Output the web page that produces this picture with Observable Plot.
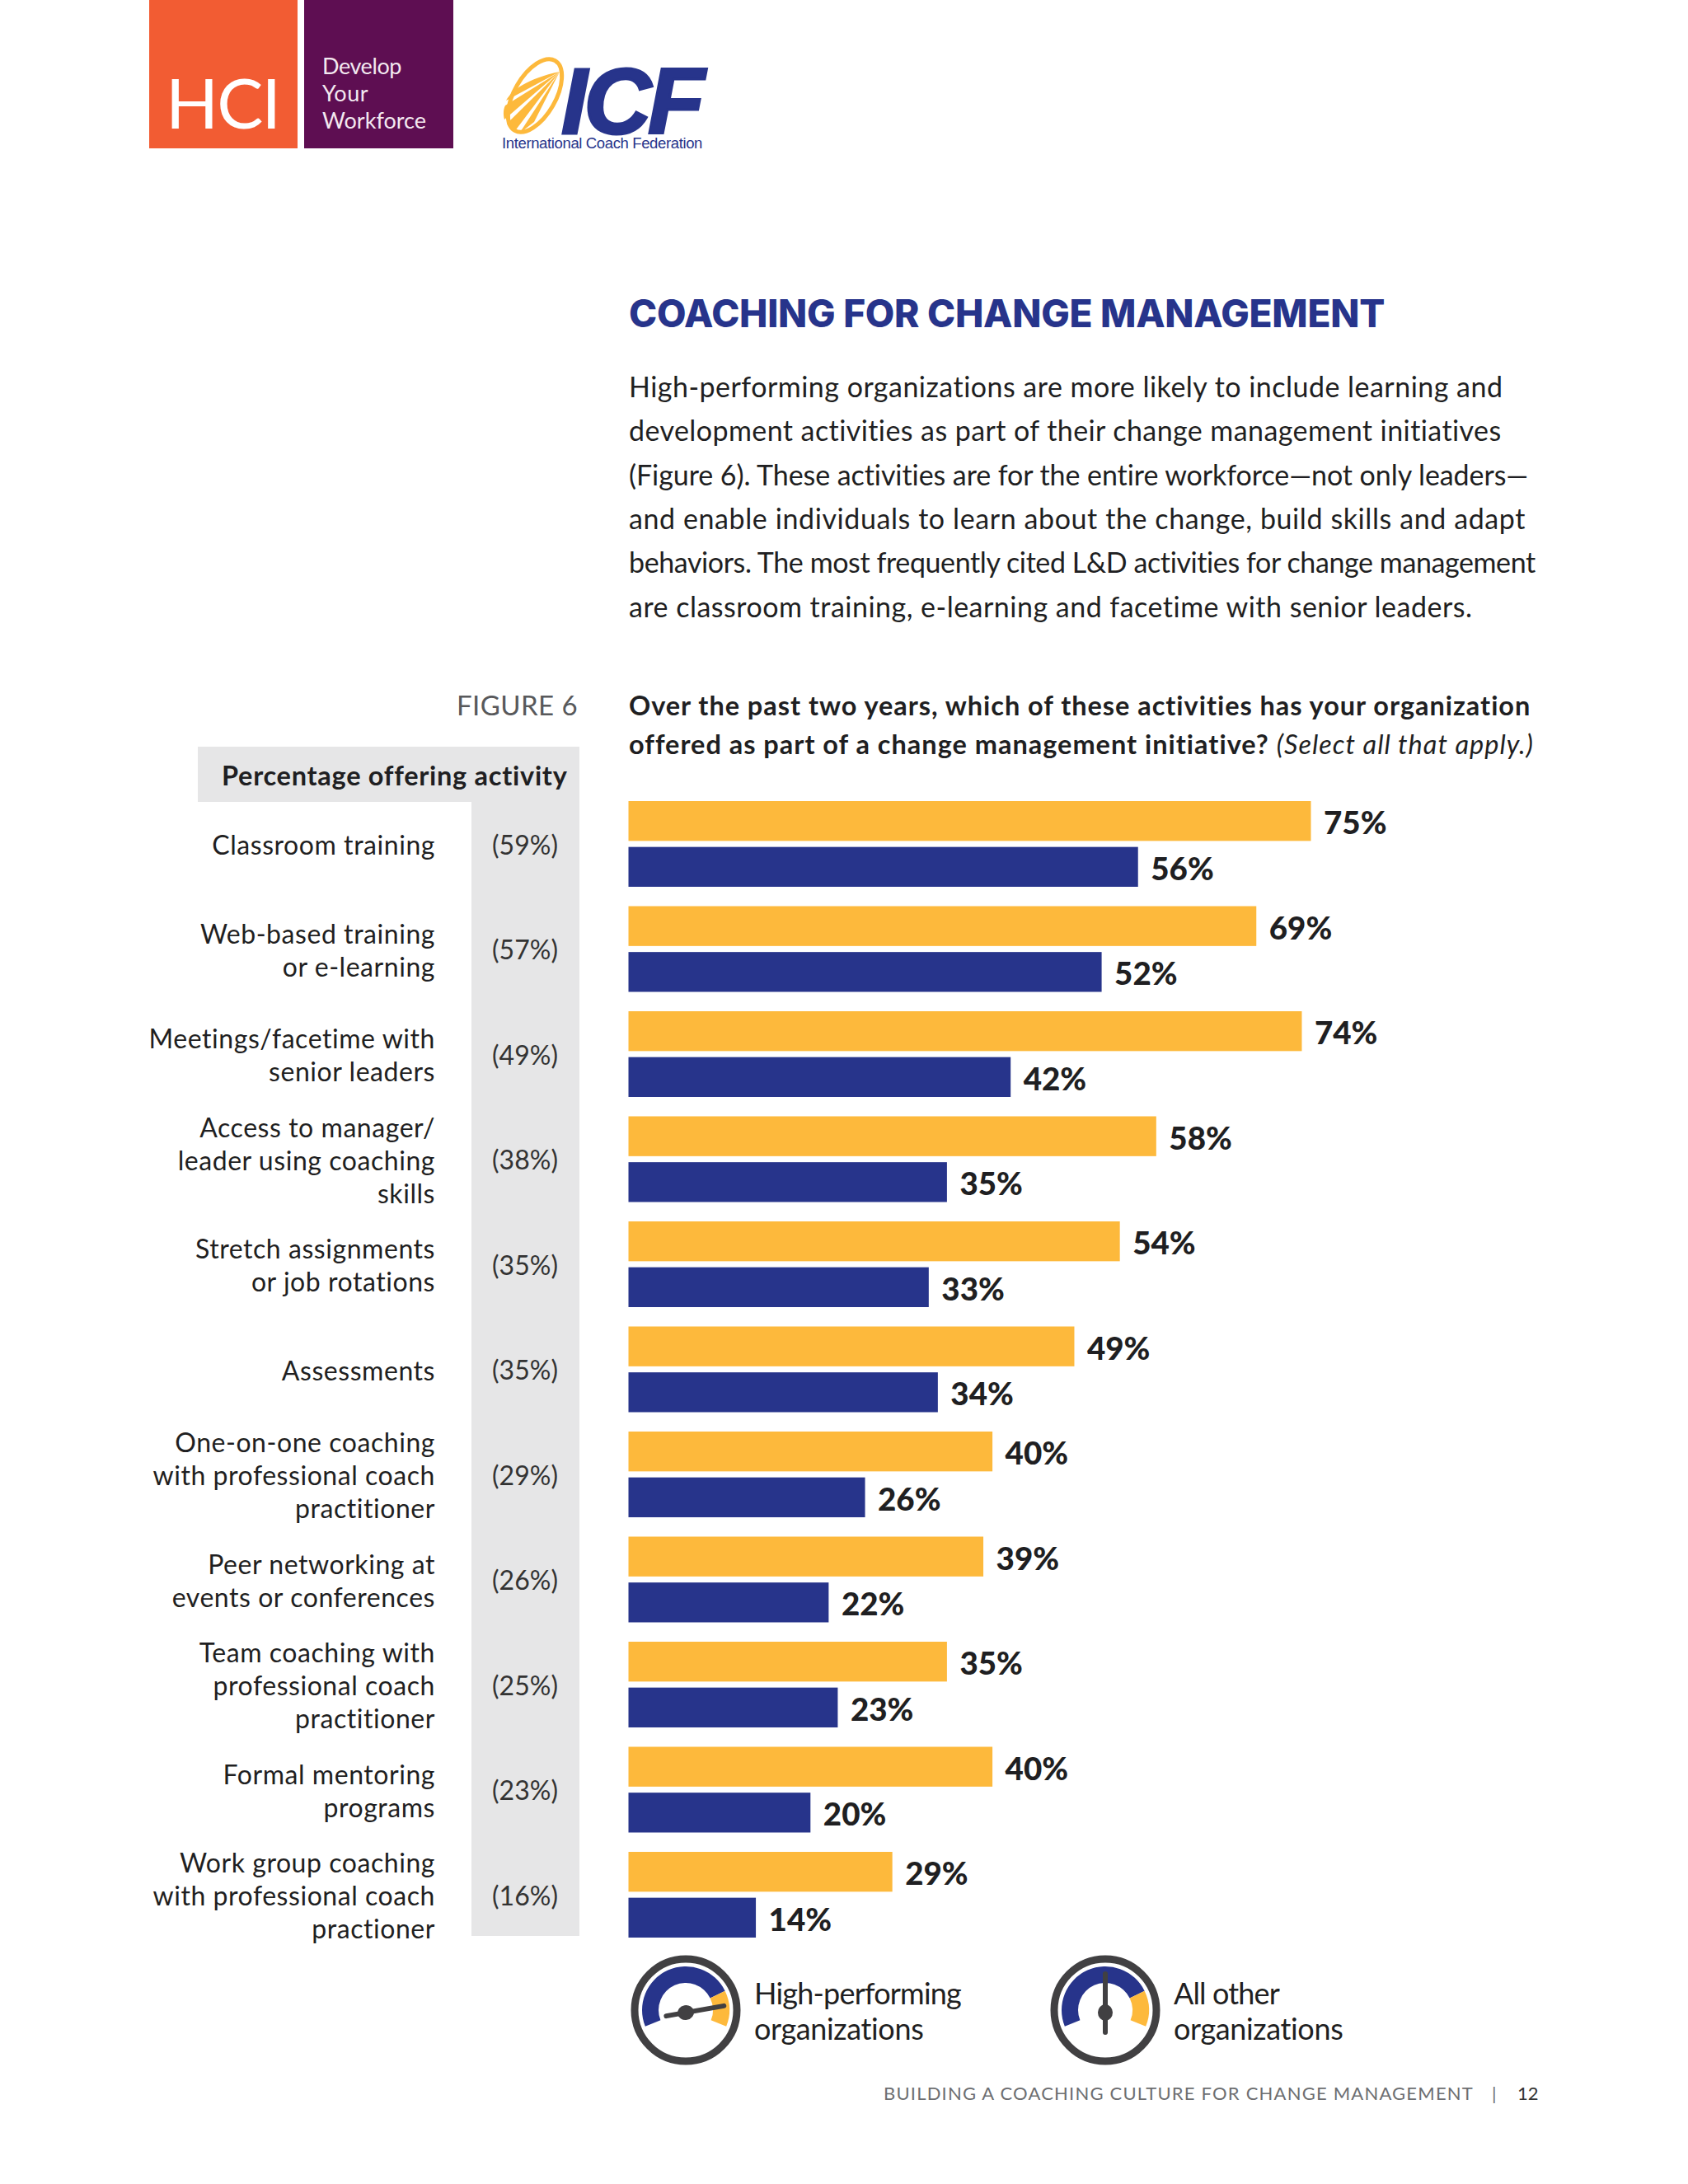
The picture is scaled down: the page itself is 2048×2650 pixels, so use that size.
<!DOCTYPE html>
<html>
<head>
<meta charset="utf-8">
<script src="https://cdn.jsdelivr.net/npm/d3@7"></script>
<script src="https://cdn.jsdelivr.net/npm/@observablehq/plot@0.6"></script>
<style>
html,body{margin:0;padding:0;background:#fff}
#page{position:relative;width:2048px;height:2650px;overflow:hidden;background:#fff}
#page>div,#page>svg{position:absolute}
.t{white-space:nowrap;line-height:1}
.cat text{letter-spacing:.55px}
</style>
</head>
<body>
<div id="page"></div>
<script>
// ---- data ----
const categories = [
  "Classroom training",
  "Web-based training\nor e-learning",
  "Meetings/facetime with\nsenior leaders",
  "Access to manager/\nleader using coaching\nskills",
  "Stretch assignments\nor job rotations",
  "Assessments",
  "One-on-one coaching\nwith professional coach\npractitioner",
  "Peer networking at\nevents or conferences",
  "Team coaching with\nprofessional coach\npractitioner",
  "Formal mentoring\nprograms",
  "Work group coaching\nwith professional coach\npractioner"
];
const overall = [59,57,49,38,35,35,29,26,25,23,16];
const highPerforming = [75,69,74,58,54,49,40,39,35,40,29];
const allOther = [56,52,42,35,33,34,26,22,23,20,14];
const seriesNames = ["High-performing organizations","All other organizations"];
const seriesColors = ["#FDB93C","#27348B"];
const paragraph = [
  "High-performing organizations are more likely to include learning and",
  "development activities as part of their change management initiatives",
  "(Figure 6). These activities are for the entire workforce—not only leaders—",
  "and enable individuals to learn about the change, build skills and adapt",
  "behaviors. The most frequently cited L&D activities for change management",
  "are classroom training, e-learning and facetime with senior leaders."
];

const BODY = "Lato, 'Open Sans', sans-serif";
const INK = "#1f1f22";
const page = document.getElementById("page");

// text helper: x/y are the left (or right) edge and baseline, w a target width
function t(html, o){
  const d = document.createElement("div");
  d.className = "t";
  d.innerHTML = html;
  d.style.cssText = `left:0;top:0;font:${o.style||"normal"} ${o.weight||400} ${o.size}px ${o.font||BODY};color:${o.color||INK}`;
  if (o.lineHeight) d.style.lineHeight = o.lineHeight;
  const mark = document.createElement("span");
  mark.style.cssText = "display:inline-block;width:0;height:0";
  d.appendChild(mark);
  page.appendChild(d);
  if (o.w){
    const chars = d.textContent.length;
    const cur = d.getBoundingClientRect().width;
    d.style.letterSpacing = ((o.w-cur)/chars)+"px";
  }
  const base = mark.getBoundingClientRect().top - page.getBoundingClientRect().top;
  const width = d.getBoundingClientRect().width;
  d.style.top = (o.y-base)+"px";
  d.style.left = (o.anchor==="end" ? o.x-width : o.x)+"px";
  return d;
}
function box(x,y,w,h,c){
  const d=document.createElement("div");
  d.style.cssText=`left:${x}px;top:${y}px;width:${w}px;height:${h}px;background:${c}`;
  page.appendChild(d);
}

// ---- logos ----
box(181,0,180,180,"#F25C33");
box(369,0,181,180,"#5E0E52");
t("HCI",{x:201,y:156,size:84,weight:400,color:"#fff",w:138});
t("Develop",{x:391,y:90,size:27,color:"#f3e8f0",w:96});
t("Your",{x:391,y:123,size:27,color:"#f3e8f0",w:56});
t("Workforce",{x:391,y:156,size:27,color:"#f3e8f0",w:126});

const icf = d3.select(page).append("svg")
  .attr("width",110).attr("height",120)
  .style("left","600px").style("top","60px");
const swoosh = icf.append("g").attr("fill","none").attr("stroke","#FDB93C");
swoosh.append("ellipse").attr("cx",49).attr("cy",56).attr("rx",25).attr("ry",49)
  .attr("transform","rotate(30 49 56)").attr("stroke-width",5);
icf.append("g").attr("fill","#FDB93C").selectAll("path")
  .data([
    "M79,27 L14,62 C20,50 40,35 79,27Z",
    "M79,27 L12,85 C10,78 11,72 13,68Z",
    "M79,27 L24,100 C20,97 17,94 15,90Z",
    "M79,27 L48,88 L30,102Z"
  ]).join("path").attr("d",d=>d);
t("ICF",{x:681,y:162,size:113,weight:700,style:"italic",font:"'Liberation Sans',Arial,sans-serif",color:"#27348B",w:170,lineHeight:0.72}).style.webkitTextStroke="3px #27348B";
t("International Coach Federation",{x:609,y:180,size:18.5,font:"'Liberation Sans',Arial,sans-serif",color:"#27348B",w:243});

// ---- heading and paragraph ----
t("COACHING FOR CHANGE MANAGEMENT",{x:763,y:397,size:46,weight:800,font:"Inter,sans-serif",color:"#27348B",w:917});
const paraW=[1061,1061,1093,1088,1101,1024];
paragraph.forEach((line,i)=>t(line,{x:763,y:482+i*53.3,size:34,w:paraW[i]}));

// ---- figure heading ----
t("FIGURE 6",{x:701,y:868,size:33,color:"#58595B",anchor:"end",w:147});
t("Over the past two years, which of these activities has your organization",{x:763,y:868,size:32.5,weight:700,w:1096});
t('offered as part of a change management initiative? <span style="font-weight:400;font-style:italic">(Select all that apply.)</span>',{x:763,y:915,size:32.5,weight:700,w:1098});

// ---- grey column behind the plot ----
box(240,906,463,67,"#E6E6E7");
box(572,906,131,1443,"#E6E6E7");
t("Percentage offering activity",{x:269,y:953,size:32.5,weight:700,w:419});

// ---- chart ----
const rows = categories.flatMap((category,i)=>[
  {category,series:seriesNames[0],value:highPerforming[i]},
  {category,series:seriesNames[1],value:allOther[i]}
]);
const labels = categories.map((category,i)=>({category,overall:overall[i]}));
const chart = Plot.plot({
  width:2048, height:1411,
  marginTop:22, marginBottom:10, marginLeft:762.5, marginRight:181.5,
  style:{background:"transparent",fontFamily:BODY,overflow:"visible"},
  x:{domain:[0,100],axis:null},
  y:{domain:seriesNames,axis:null,paddingInner:7.3/55.6,paddingOuter:0,round:false},
  fy:{domain:categories,axis:null,paddingInner:23.5/127.5,paddingOuter:0,round:false},
  color:{domain:seriesNames,range:seriesColors},
  marks:[
    Plot.barX(rows,{x:"value",y:"series",fy:"category",fill:"series"}),
    Plot.text(rows,{x:"value",y:"series",fy:"category",text:d=>d.value+"%",textAnchor:"start",dx:15,dy:3,fontSize:38.5,fontWeight:900,fill:INK}),
    Plot.text(labels,{fy:"category",frameAnchor:"left",className:"cat",text:"category",textAnchor:"end",dx:-235,dy:0,fontSize:32,lineHeight:1.25,fill:INK}),
    Plot.text(labels,{fy:"category",frameAnchor:"left",text:d=>`(${d.overall}%)`,textAnchor:"middle",dx:-126,dy:2,fontSize:32,fill:"#333"})
  ]
});
const holder=document.createElement("div");
holder.style.cssText="left:0;top:950px;width:2048px";
holder.appendChild(chart);
page.appendChild(holder);

// ---- legend gauges ----
function gauge(cx,cy,angle){
  const s=d3.select(page).append("svg").attr("width",140).attr("height",140)
    .style("left",(cx-70)+"px").style("top",(cy-70)+"px");
  const g=s.append("g").attr("transform","translate(70,70)");
  g.append("circle").attr("r",62).attr("fill","#fff").attr("stroke","#414042").attr("stroke-width",9);
  const arc=d3.arc().innerRadius(33).outerRadius(53);
  const rad=a=>a*Math.PI/180;
  g.append("path").attr("d",arc({startAngle:rad(-112),endAngle:rad(64)})).attr("fill",seriesColors[1]);
  g.append("path").attr("d",arc({startAngle:rad(64),endAngle:rad(112)})).attr("fill",seriesColors[0]);
  const n=g.append("g").attr("transform",`translate(0,3) rotate(${angle})`);
  n.append("line").attr("x1",0).attr("x2",0).attr("y1",24).attr("y2",-47)
    .attr("stroke","#414042").attr("stroke-width",6).attr("stroke-linecap","round");
  n.append("ellipse").attr("rx",9).attr("ry",10).attr("fill","#414042");
}
gauge(831.5,2439,80);
gauge(1341,2439,0);
t("High-performing",{x:915,y:2432,size:36,w:251});
t("organizations",{x:915,y:2475,size:36,w:206});
t("All other",{x:1424,y:2432,size:36,w:128});
t("organizations",{x:1424,y:2475,size:36,w:206});

// ---- footer ----
t("BUILDING A COACHING CULTURE FOR CHANGE MANAGEMENT",{x:1072,y:2548,size:22,color:"#6D6E71",w:716});
t("|",{x:1810,y:2548,size:22,color:"#6D6E71"});
t("12",{x:1841,y:2548,size:22,color:"#333"});
</script>
</body>
</html>
